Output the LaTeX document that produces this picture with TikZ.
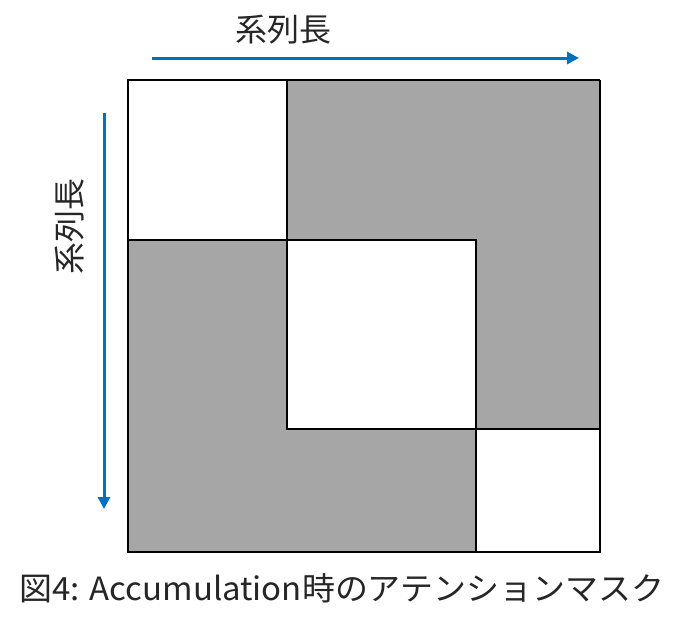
\documentclass[tikz,border=0pt]{standalone}
\usepackage{fontspec}
\setmainfont{Noto Sans CJK JP}
\usetikzlibrary{arrows.meta}
\definecolor{maskgray}{HTML}{A6A6A6}
\definecolor{arrowblue}{HTML}{0070C0}
\tikzset{
  cellline/.style={draw=black, line width=1.6pt},
  axisarrow/.style={draw=arrowblue, line width=3pt, -{Triangle[length=12pt,width=12pt]}},
  lbl/.style={font=\fontsize{32}{32}\selectfont, inner sep=0pt, text=black!85}
}
\begin{document}
\begin{tikzpicture}[x=1pt,y=-1pt]
\useasboundingbox (0,0) rectangle (694,630);
% gray regions
\fill[maskgray] (287,80) -- (600,80) -- (600,429) -- (476,429) -- (476,240) -- (287,240) -- cycle;
\fill[maskgray] (128,240) -- (287,240) -- (287,429) -- (476,429) -- (476,552) -- (128,552) -- cycle;
% cells
\draw[cellline] (128,80) rectangle (287,240);
\draw[cellline] (287,240) rectangle (476,429);
\draw[cellline] (476,429) rectangle (600,552);
\draw[cellline] (287,80) -- (287,240);
\draw[cellline] (128,240) -- (128,552) -- (476,552);
\draw[cellline] (600,80) -- (600,429);
\draw[cellline] (128,80) -- (600,80);
% arrows
\coordinate (hs) at (152,58);
\coordinate (he) at (579,58);
\coordinate (vs) at (104,113);
\coordinate (ve) at (104,509);
\draw[axisarrow] (hs) -- (he);
\draw[axisarrow] (vs) -- (ve);
% labels
\node[lbl] (top) at (283,30) {系列長};
\node[lbl, rotate=90] (left) at (70,226) {系列長};
\node[lbl, xscale=1.03] (cap) at (342,588) {図4: Accumulation時のアテンションマスク};
\end{tikzpicture}
\end{document}
